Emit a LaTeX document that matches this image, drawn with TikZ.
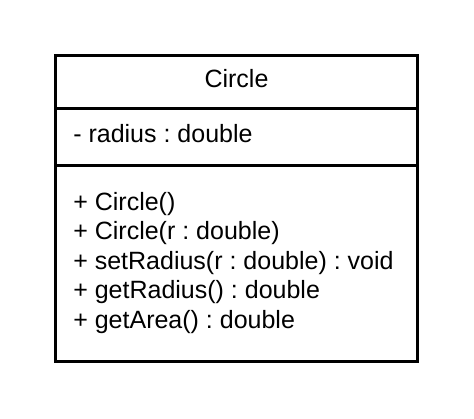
\documentclass[tikz,border=0pt]{standalone}
\usepackage{fontspec}
\setmainfont{Liberation Sans}
\frenchspacing
\begin{document}
\begin{tikzpicture}[x=1pt, y=-1pt, line width=2.6pt,
    label/.style={anchor=base west, inner sep=0pt, font=\fontsize{25}{30}\selectfont}]

    \useasboundingbox (0,0) rectangle (474,418);

    % Class box
    \draw (55.5,55.5) rectangle (417.5,361.5);
    \draw (55.5,108.3) -- (417.5,108.3);
    \draw (55.5,165.7) -- (417.5,165.7);

    % Name
    \node[label, anchor=base] (name) at (236.5,87) {Circle};

    % Attributes
    \node[label] (radius) at (72,142) {- radius : double};

    % Operations
    \node[label] (ctor) at (72,210) {+ Circle()};
    \node[label] (ctorr) at (72,239.5) {+ Circle(r : double)};
    \node[label] (setr) at (72,269) {+ setRadius(r : double) : void};
    \node[label] (getr) at (72,298.5) {+ getRadius() : double};
    \node[label] (geta) at (72,328) {+ getArea() : double};

\end{tikzpicture}
\end{document}
